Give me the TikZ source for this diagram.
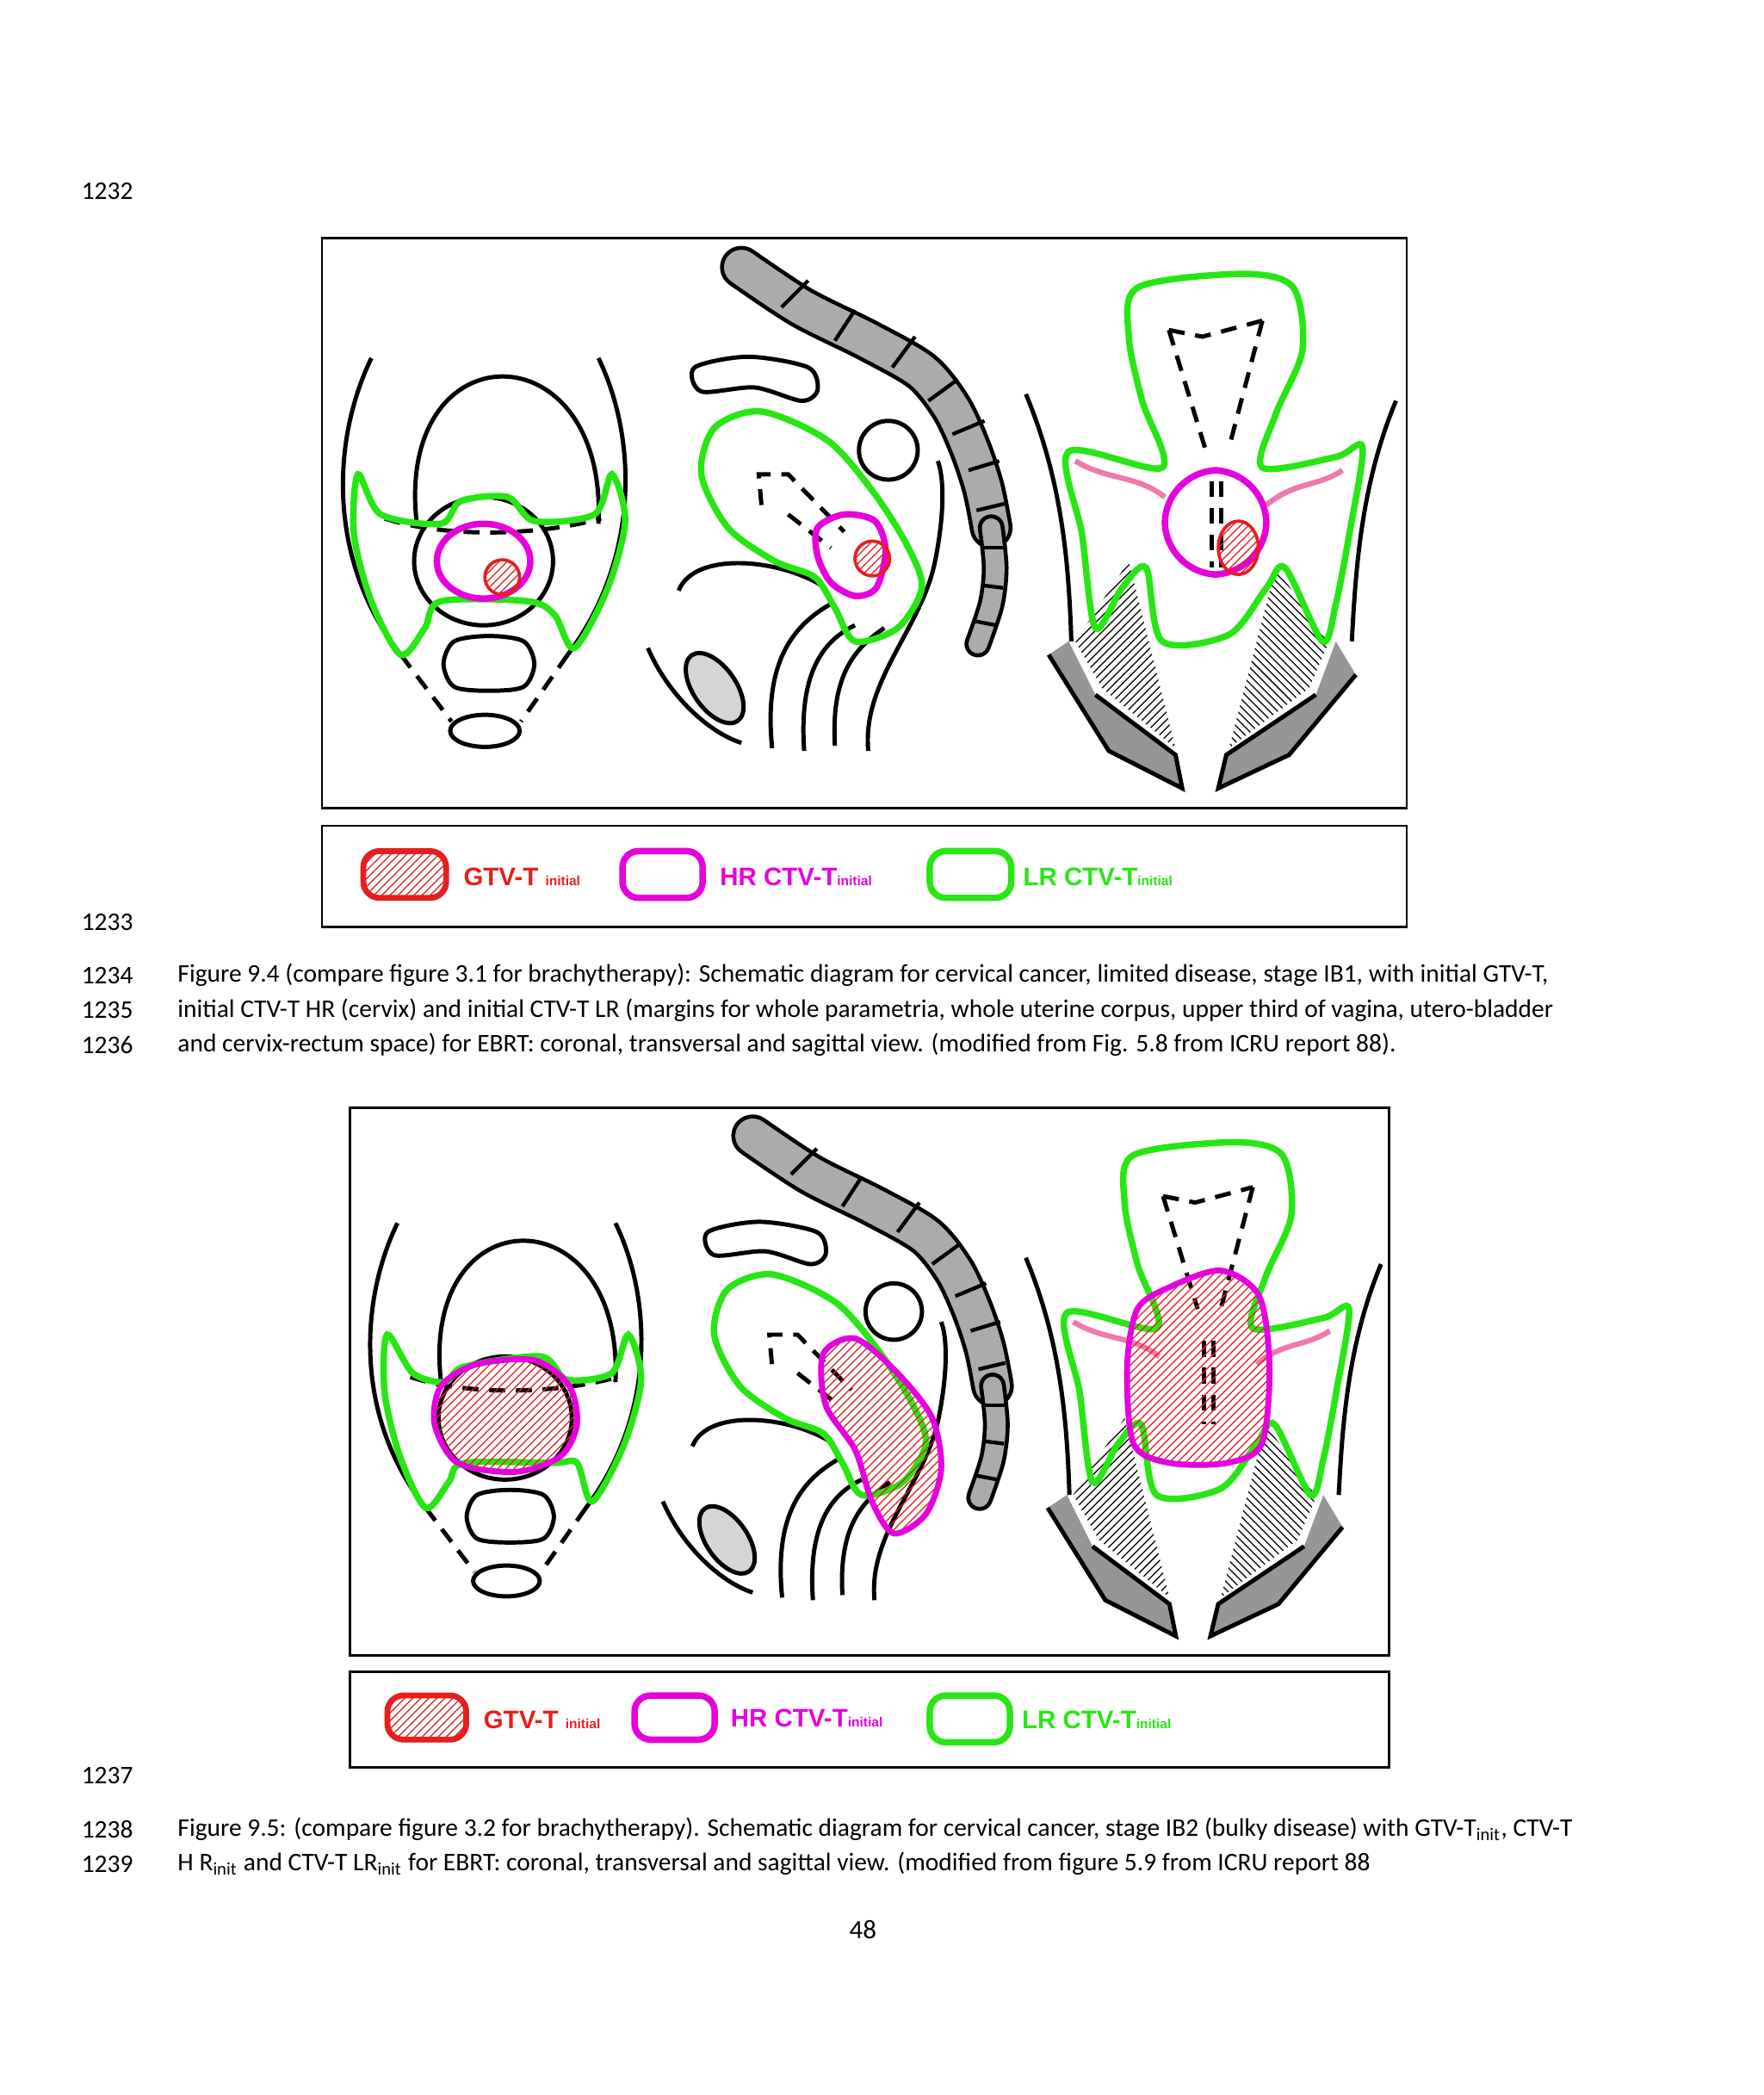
\documentclass[tikz,border=0pt]{standalone}
\usepackage{fontspec}
\setmainfont{Carlito}
\newfontfamily\arialb[BoldFont={Liberation Sans Bold}]{Liberation Sans}
\usetikzlibrary{patterns}
\definecolor{gr}{RGB}{40,230,20}
\definecolor{mg}{RGB}{230,0,220}
\definecolor{rd}{RGB}{230,30,30}
\definecolor{pk}{RGB}{240,120,170}
\definecolor{gy}{RGB}{150,150,150}
\tikzset{
 organ/.style={draw=black,line width=1.6pt},
 lr/.style={draw=gr,line width=2.4pt},
 hr/.style={draw=mg,line width=2.4pt},
 gtv/.style={draw=rd,line width=1.2pt,pattern=north east lines,pattern color=rd},
 dsh/.style={draw=black,line width=1.6pt,dash pattern=on 6pt off 4pt},
 lnum/.style={anchor=west,font=\fontsize{9.5}{11}\selectfont},
 captxt/.style={anchor=west,font=\fontsize{9.5}{11}\selectfont},
 frame/.style={draw=black,line width=0.9pt},
 legt/.style={anchor=west,font=\arialb\bfseries\fontsize{9.5}{11}\selectfont},
}
\newcommand{\anat}{%
 \draw[organ] (312,392) .. controls (295,245) and (455,245) .. (448,392);
 \draw[dsh] (288,388) .. controls (330,402) and (400,402) .. (450,388);
 \draw[organ] (278,268) .. controls (248,330) and (245,420) .. (300,490);
 \draw[dsh] (300,490) -- (338,540);
 \draw[organ] (448,268) .. controls (478,330) and (478,420) .. (425,490);
 \draw[dsh] (425,490) -- (390,540);
 \draw[organ] (362,420) ellipse [x radius=52,y radius=48];
 \draw[organ] plot[smooth cycle] coordinates {(340,480)(366,476)(392,480)(400,497)(392,514)(366,517)(340,514)(332,497)};
 \draw[organ] (363,547) ellipse [x radius=26,y radius=12];
 \draw[black,line width=16pt,line cap=round] plot[smooth] coordinates {(555,200)(600,230)(650,255)(690,278)(712,305)(726,335)(736,365)(742,395)};
 \draw[gy!80,line width=13pt,line cap=round] plot[smooth] coordinates {(555,200)(600,230)(650,255)(690,278)(712,305)(726,335)(736,365)(742,395)};
 \draw[black,line width=10pt,line cap=round] plot[smooth] coordinates {(742,395)(745,425)(742,452)(732,482)};
 \draw[gy!80,line width=7pt,line cap=round] plot[smooth] coordinates {(742,395)(745,425)(742,452)(732,482)};
 \foreach \a/\b in {{(585,230)}/{(605,210)},{(625,255)}/{(640,232)},{(668,275)}/{(685,252)},{(695,300)}/{(717,284)},{(713,325)}/{(737,315)},{(725,352)}/{(748,345)},{(731,382)}/{(752,377)},{(736,410)}/{(752,410)},{(735,438)}/{(751,440)},{(730,465)}/{(746,468)}}
   \draw[black,line width=1.4pt] \a -- \b;
 \draw[organ] plot[smooth cycle] coordinates {(520,275)(560,267)(605,275)(612,292)(600,300)(565,290)(525,293)};
 \draw[organ] (665,337) circle (22);
 \draw[organ] (508,442) .. controls (520,412) and (585,418) .. (618,440);
 \draw[organ] (485,485) .. controls (500,520) and (530,548) .. (555,556);
 \draw[organ] (578,560) .. controls (572,500) and (590,470) .. (622,452);
 \draw[organ] (602,562) .. controls (598,505) and (615,480) .. (640,468);
 \draw[organ] (625,558) .. controls (622,505) and (640,485) .. (662,470);
 \draw[organ] (650,562) .. controls (645,510) and (690,470) .. (700,420) .. controls (708,380) and (706,355) .. (702,345);
 \draw[organ,fill=gy!40] (535,515) ellipse [x radius=16,y radius=30,rotate=35];
 \draw[lr] plot[smooth cycle] coordinates {(535,320)(570,308)(620,330)(655,370)(680,410)(690,440)(672,470)(640,480)(625,455)(610,432)(580,420)(545,395)(525,355)};
 \draw[dsh] (570,378) -- (568,355) -- (590,355) -- (632,398);
 \draw[dsh] (590,385) -- (622,410);
 \draw[organ] (768,295) .. controls (795,360) and (800,420) .. (802,480);
 \draw[organ] (1045,300) .. controls (1020,360) and (1015,420) .. (1012,480);
 \fill[gy] (785,490) -- (830,562) -- (885,590) -- (880,565) -- (820,520) -- (800,480) -- cycle;
 \draw[organ] (785,490) -- (830,562) -- (885,590) -- (880,565) -- (820,520);
 \fill[pattern=north east lines] (805,480) -- (845,420) -- (880,560) -- (825,515) -- cycle;
 \fill[gy] (1015,505) -- (965,565) -- (912,590) -- (918,565) -- (985,520) -- (1000,480) -- cycle;
 \draw[organ] (1015,505) -- (965,565) -- (912,590) -- (918,565) -- (985,520);
 \fill[pattern=north west lines] (995,480) -- (955,425) -- (920,560) -- (980,515) -- cycle;
 \draw[pk,line width=2pt] (805,345) .. controls (830,360) and (850,355) .. (872,372);
 \draw[pk,line width=2pt] (948,378) .. controls (970,360) and (985,365) .. (1005,352);
 \draw[lr] plot[smooth cycle] coordinates {(852,215)(930,205)(968,215)(975,262)(955,310)(945,350)(1000,342)(1020,335)(1010,400)(1000,452)(990,480)(962,425)(948,440)(920,475)(870,480)(858,425)(840,440)(820,470)(810,400)(800,338)(870,350)(855,300)(845,252)};
 \draw[dsh] (875,247) -- (900,252) -- (945,240);
 \draw[dsh] (875,247) -- (902,335);
 \draw[dsh] (945,240) -- (920,335);
 \draw[dsh] (907,360) -- (907,425);
 \draw[dsh] (914,360) -- (914,425);
}
\begin{document}
\begin{tikzpicture}[x=0.5pt,y=-0.5pt]
\useasboundingbox (0,0) rectangle (1320,1568);
\fill[white] (0,0) rectangle (1320,1568);
\foreach \n/\y in {1232/143,1233/690,1234/730,1235/756,1236/782,1237/1329,1238/1369,1239/1395}
  \node[lnum] (l\n) at (54,\y) {\n};
\draw[frame] (241,178) rectangle (1053,605);
\anat
\draw[lr] plot[smooth cycle] coordinates {(268,355)(285,385)(330,392)(345,375)(380,372)(400,390)(445,385)(458,355)(468,390)(455,440)(430,485)(415,460)(395,450)(330,450)(318,470)(300,490)(278,450)(265,400)};
\draw[hr] (362,420) ellipse [x radius=35,y radius=28];
\draw[gtv] (376,432) circle (13);
\draw[hr] plot[smooth cycle] coordinates {(612,395)(632,385)(655,390)(663,412)(656,440)(640,446)(622,436)(612,416)};
\draw[gtv] (653,418) circle (13);
\draw[hr,rounded corners=20] (872,352) rectangle (948,430);
\draw[gtv] (927,410) ellipse [x radius=15,y radius=20];
\draw[frame] (241,618) rectangle (1053,694);
\draw[gtv,line width=2.2pt,rounded corners=6] (272,637) rectangle (334,672);
\node[legt,text=rd] (g1) at (340,656) {GTV-T \fontsize{5}{6}\selectfont initial};
\draw[hr,rounded corners=6] (466,637) rectangle (526,672);
\node[legt,text=mg] (h1) at (532,656) {HR CTV-T\fontsize{5}{6}\selectfont initial};
\draw[lr,rounded corners=6] (696,637) rectangle (757,672);
\node[legt,text=gr] (r1) at (759,656) {LR CTV-T\fontsize{5}{6}\selectfont initial};
\node[captxt] (c1) at (126,730) {Figure 9.4 (compare figure 3.1 for brachytherapy): Schematic diagram for cervical cancer, limited disease, stage IB1, with initial GTV-T,};
\node[captxt] (c2) at (126,756) {initial CTV-T HR (cervix) and initial CTV-T LR (margins for whole parametria, whole uterine corpus, upper third of vagina, utero-bladder};
\node[captxt] (c3) at (126,782) {and cervix-rectum space) for EBRT: coronal, transversal and sagittal view. (modified from Fig. 5.8 from ICRU report 88).};
\draw[frame] (262,829) rectangle (1040,1239);
\begin{scope}[shift={(262,829)},scale=.96,shift={(-241,-178)}]
\anat
\draw[lr] plot[smooth cycle] coordinates {(270,355)(290,385)(315,392)(330,380)(390,372)(410,390)(445,385)(458,355)(468,390)(455,440)(430,485)(418,455)(400,455)(330,455)(318,470)(300,490)(280,450)(268,400)};
\draw[gtv,draw=mg,line width=2.2pt] plot[smooth cycle] coordinates {(312,395)(340,378)(385,375)(412,395)(418,425)(405,450)(370,462)(325,455)(307,425)};
\draw[gtv,draw=mg,line width=2.2pt] plot[smooth cycle] coordinates {(610,370)(635,358)(668,385)(695,420)(702,460)(690,495)(665,510)(648,485)(635,445)(612,410)};
\draw[gtv,draw=mg,line width=2.2pt] plot[smooth cycle] coordinates {(880,318)(920,305)(950,325)(958,380)(952,440)(925,455)(880,455)(852,440)(847,380)(855,335)};
\end{scope}
\draw[frame] (262,1251) rectangle (1040,1323);
\draw[gtv,line width=2.2pt,rounded corners=6] (290,1269) rectangle (349,1302);
\node[legt,text=rd] (g2) at (355,1287) {GTV-T \fontsize{5}{6}\selectfont initial};
\draw[hr,rounded corners=6] (475,1269) rectangle (535,1302);
\node[legt,text=mg] (h2) at (540,1286) {HR CTV-T\fontsize{5}{6}\selectfont initial};
\draw[lr,rounded corners=6] (696,1269) rectangle (756,1304);
\node[legt,text=gr] (r2) at (758,1287) {LR CTV-T\fontsize{5}{6}\selectfont initial};
\node[captxt] (d1) at (126,1369) {Figure 9.5: (compare figure 3.2 for brachytherapy). Schematic diagram for cervical cancer, stage IB2 (bulky disease) with GTV-T\textsubscript{init}, CTV-T};
\node[captxt] (d2) at (126,1395) {H R\textsubscript{init} and CTV-T LR\textsubscript{init} for EBRT: coronal, transversal and sagittal view. (modified from figure 5.9 from ICRU report 88};
\node[font=\fontsize{10}{12}\selectfont] (pg) at (646,1444) {48};
\end{tikzpicture}
\end{document}
